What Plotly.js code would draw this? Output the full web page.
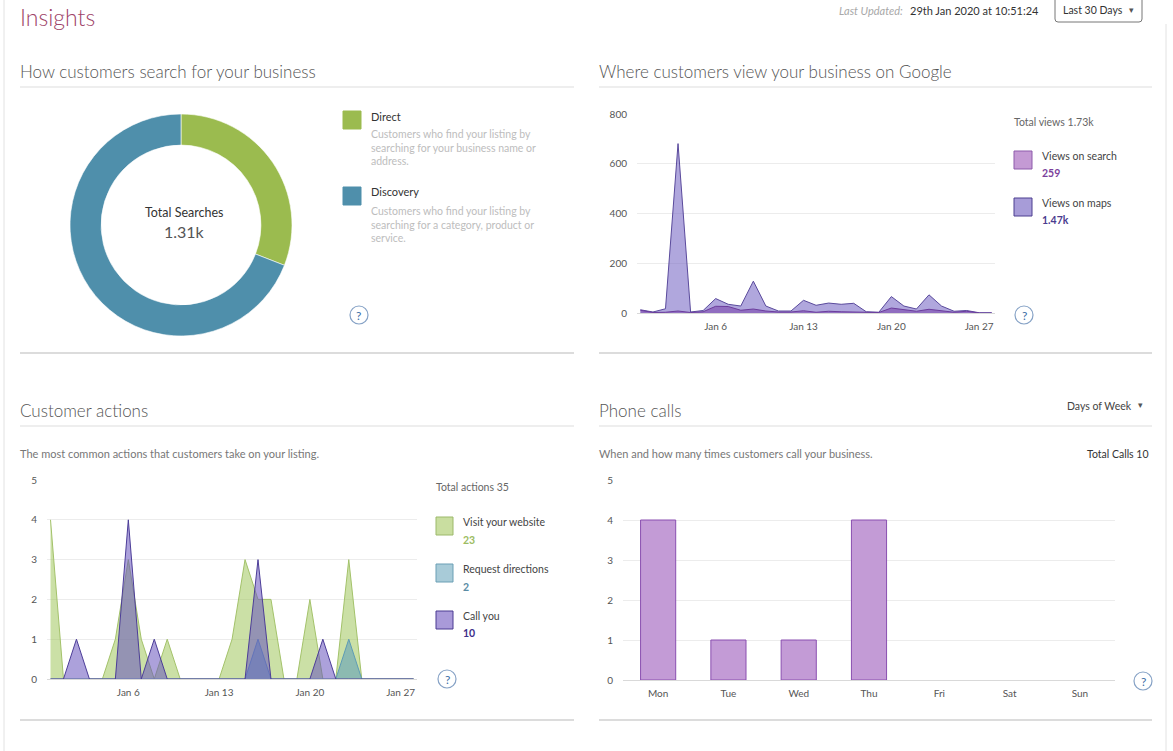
<!DOCTYPE html>
<html>
<head>
<meta charset="utf-8">
<script src="https://cdn.plot.ly/plotly-3.0.1.min.js"></script>
<style>
  html, body { margin: 0; padding: 0; background: #fff; }
  #chart { width: 1173px; height: 751px; }
</style>
</head>
<body>
<div id="chart"></div>
<script>
// ---------- DATA ----------
const searchLabels = ['Direct', 'Discovery'];
const searchValues = [405, 905];

const dates = ['2019-12-31','2020-01-01','2020-01-02','2020-01-03','2020-01-04','2020-01-05','2020-01-06',
  '2020-01-07','2020-01-08','2020-01-09','2020-01-10','2020-01-11','2020-01-12','2020-01-13',
  '2020-01-14','2020-01-15','2020-01-16','2020-01-17','2020-01-18','2020-01-19','2020-01-20',
  '2020-01-21','2020-01-22','2020-01-23','2020-01-24','2020-01-25','2020-01-26','2020-01-27','2020-01-28'];
const viewsMaps   = [13,4,17,681,4,10,58,35,28,128,28,8,8,51,31,40,35,39,5,3,66,28,16,73,28,7,10,1,1];
const viewsSearch = [11,2,3,8,2,5,27,26,11,16,8,4,4,9,3,7,5,5,2,2,20,15,7,15,8,3,7,0,0];

const visitWebsite      = [4,0,0,0,0,1,3,1,0,1,0,0,0,0,1,3,2,2,0,0,2,0,0,3,0,0,0,0,0];
const requestDirections = [0,0,0,0,0,0,0,0,0,0,0,0,0,0,0,0,1,0,0,0,0,0,0,1,0,0,0,0,0];
const callYou           = [0,0,1,0,0,0,4,0,1,0,0,0,0,0,0,0,3,0,0,0,0,1,0,0,0,0,0,0,0];

const dateTickVals = ['2020-01-06','2020-01-13','2020-01-20','2020-01-27'];
const dateTickText = ['Jan 6','Jan 13','Jan 20','Jan 27'];

const weekDays = ['Mon','Tue','Wed','Thu','Fri','Sat','Sun'];
const callsPerDay = [4,1,1,4,0,0,0];

// ---------- HELPERS ----------
const W = 1173, H = 751;
const FONT = 'Lato, "Open Sans", "Noto Sans", sans-serif';
const px = v => v / W;
const py = v => 1 - v / H;

function T(text, x, y, size, color, extra) {
  return Object.assign({
    text: text, x: px(x), y: py(y), xref: 'paper', yref: 'paper',
    xanchor: 'left', yanchor: 'middle', showarrow: false, align: 'left',
    font: { family: FONT, size: size, color: color }
  }, extra || {});
}
function L(x0, y0, x1, y1, color, width) {
  return { type: 'line', xref: 'paper', yref: 'paper', x0: px(x0), y0: py(y0), x1: px(x1), y1: py(y1),
    line: { color: color, width: width } };
}
function R(x0, y0, x1, y1, fill, border) {
  return { type: 'rect', xref: 'paper', yref: 'paper', x0: px(x0), y0: py(y0), x1: px(x1), y1: py(y1),
    fillcolor: fill, line: { color: border, width: 1 } };
}
function C(cx, cy, r, color) {
  return { type: 'circle', xref: 'paper', yref: 'paper', x0: px(cx - r), y0: py(cy + r), x1: px(cx + r), y1: py(cy - r),
    fillcolor: 'rgba(0,0,0,0)', line: { color: color, width: 1.2 } };
}

const shapes = [];
const annotations = [];

// page borders
shapes.push(L(4, 0, 4, 751, '#e2e2e2', 1));
shapes.push(L(1166, 24, 1166, 751, '#e2e2e2', 1));

// header
annotations.push(T('Insights', 18, 17, 23, '#9e4368', { font: { family: FONT, size: 23, color: '#9e4368', weight: 300 } }));
annotations.push(T('<i>Last Updated:</i>', 837, 10, 11, '#a8a8a8'));
annotations.push(T('29th Jan 2020 at 10:51:24', 908, 10, 11, '#333333'));
shapes.push({ type: 'path', xref: 'paper', yref: 'paper',
  path: `M ${px(1055)},${py(-2)} L ${px(1055)},${py(19)} Q ${px(1055)},${py(22)} ${px(1058)},${py(22)} L ${px(1139)},${py(22)} Q ${px(1142)},${py(22)} ${px(1142)},${py(19)} L ${px(1142)},${py(-2)} Z`,
  fillcolor: '#ffffff', line: { color: '#777777', width: 1 } });
annotations.push(T('Last 30 Days', 1061, 10, 10.5, '#333333'));
annotations.push(T('▾', 1127, 9, 9, '#555555'));

// section titles & rules
const secFont = (size) => ({ family: FONT, size: size, color: '#555555', weight: 300 });
annotations.push(T('How customers search for your business', 18, 71, 17, '#555', { font: secFont(17) }));
annotations.push(T('Where customers view your business on Google', 597, 71, 17, '#555', { font: secFont(17) }));
annotations.push(T('Customer actions', 18, 410, 17, '#555', { font: secFont(17) }));
annotations.push(T('Phone calls', 597, 410, 17, '#555', { font: secFont(17) }));
shapes.push(L(20, 87, 574, 87, '#dddddd', 1));
shapes.push(L(599, 87, 1152, 87, '#dddddd', 1));
shapes.push(L(20, 426, 574, 426, '#dddddd', 1));
shapes.push(L(599, 426, 1152, 426, '#dddddd', 1));
shapes.push(L(20, 353, 574, 353, '#dcdcdc', 2));
shapes.push(L(599, 353, 1152, 353, '#dcdcdc', 2));
shapes.push(L(20, 720, 574, 720, '#dcdcdc', 2));
shapes.push(L(599, 720, 1152, 720, '#dcdcdc', 2));

annotations.push(T('Days of Week', 1065, 406, 10.5, '#444444'));
annotations.push(T('▾', 1136, 405, 9, '#555555'));
annotations.push(T('The most common actions that customers take on your listing.', 18, 453, 11, '#777777'));
annotations.push(T('When and how many times customers call your business.', 597, 453, 11, '#777777'));
annotations.push(T('Total Calls 10', 1151, 454, 10.5, '#333333', { xanchor: 'right' }));

// donut centre text
annotations.push(T('Total Searches', 184, 212, 12.5, '#333333', { xanchor: 'center' }));
annotations.push(T('1.31k', 184, 232, 16, '#555555', { xanchor: 'center' }));

// donut legend
const descColor = '#bdbdbd';
shapes.push(R(343, 111, 361, 129, '#9bbb4f', '#9bbb4f'));
annotations.push(T('Direct', 369, 116, 11, '#333333'));
annotations.push(T('Customers who find your listing by<br>searching for your business name or<br>address.', 369, 147, 10.5, descColor));
shapes.push(R(343, 187, 361, 205, '#4f8fab', '#4f8fab'));
annotations.push(T('Discovery', 369, 192, 11, '#333333'));
annotations.push(T('Customers who find your listing by<br>searching for a category, product or<br>service.', 369, 224, 10.5, descColor));

// views legend
annotations.push(T('Total views 1.73k', 1012, 122, 10.5, '#666666'));
shapes.push(R(1014, 151, 1032, 169, '#c49ad4', '#8d5aab'));
annotations.push(T('Views on search', 1040, 156, 10.5, '#444444'));
annotations.push(T('<b>259</b>', 1040, 173, 10.5, '#7c3f9c'));
shapes.push(R(1014, 198, 1032, 216, '#a79cd8', '#4d3f90'));
annotations.push(T('Views on maps', 1040, 203, 10.5, '#444444'));
annotations.push(T('<b>1.47k</b>', 1040, 220, 10.5, '#4a3c8f'));

// actions legend
annotations.push(T('Total actions 35', 434, 487, 10.5, '#666666'));
shapes.push(R(436, 517, 453, 535, '#c9dea0', '#9cb96a'));
annotations.push(T('Visit your website', 461, 522, 10.5, '#444444'));
annotations.push(T('<b>23</b>', 461, 540, 10.5, '#9cbc62'));
shapes.push(R(436, 564, 453, 582, '#a8cbd8', '#6a9fb5'));
annotations.push(T('Request directions', 461, 569, 10.5, '#444444'));
annotations.push(T('<b>2</b>', 461, 587, 10.5, '#5a8ca5'));
shapes.push(R(436, 611, 453, 629, '#a99ad9', '#4b3a92'));
annotations.push(T('Call you', 461, 616, 10.5, '#444444'));
annotations.push(T('<b>10</b>', 461, 633, 10.5, '#3e2f8a'));

// help icons
[[359, 315], [1024, 315], [447, 679], [1143, 681]].forEach(function (p) {
  shapes.push(C(p[0], p[1], 9, '#86a2c6'));
  annotations.push(T('?', p[0], p[1] + 0.5, 12, '#3c6ea8', { xanchor: 'center' }));
});

// ---------- TRACES ----------
const dateRange = ['2019-12-30 17:30', '2020-01-28 06:15'];
const traces = [
  { type: 'pie', labels: searchLabels, values: searchValues, hole: 0.72, sort: false, direction: 'clockwise',
    rotation: 0, textinfo: 'none', hoverinfo: 'label+value',
    marker: { colors: ['#9bbb4f', '#4f8fab'], line: { color: '#ffffff', width: 0.6 } },
    domain: { x: [px(70), px(292)], y: [py(336), py(114)] }, showlegend: false },

  { type: 'scatter', mode: 'lines', x: dates, y: viewsMaps, name: 'Views on maps', xaxis: 'x', yaxis: 'y',
    fill: 'tozeroy', fillcolor: 'rgba(124,108,198,0.6)', line: { color: '#5a4a9c', width: 1 } },
  { type: 'scatter', mode: 'lines', x: dates, y: viewsSearch, name: 'Views on search', xaxis: 'x', yaxis: 'y',
    fill: 'tozeroy', fillcolor: 'rgba(118,62,168,0.55)', line: { color: '#6b3d9c', width: 1 } },

  { type: 'scatter', mode: 'lines', x: dates, y: visitWebsite, name: 'Visit your website', xaxis: 'x2', yaxis: 'y2',
    fill: 'tozeroy', fillcolor: 'rgba(160,198,92,0.55)', line: { color: '#a3c26a', width: 1 } },
  { type: 'scatter', mode: 'lines', x: dates, y: requestDirections, name: 'Request directions', xaxis: 'x2', yaxis: 'y2',
    fill: 'tozeroy', fillcolor: 'rgba(90,155,185,0.55)', line: { color: '#5d9bb5', width: 1 } },
  { type: 'scatter', mode: 'lines', x: dates, y: callYou, name: 'Call you', xaxis: 'x2', yaxis: 'y2',
    fill: 'tozeroy', fillcolor: 'rgba(104,84,190,0.55)', line: { color: '#4c3d98', width: 1 } },

  { type: 'bar', x: weekDays, y: callsPerDay, name: 'Calls', xaxis: 'x3', yaxis: 'y3', width: 0.5,
    marker: { color: '#c39bd6', line: { color: '#8a4fb0', width: callsPerDay.map(v => v > 0 ? 1 : 0) } } }
];

const tickFont = { family: FONT, size: 10, color: '#555555' };
const yBase = { gridcolor: '#ececec', zeroline: true, zerolinecolor: '#d9d9d9', zerolinewidth: 1,
  showline: false, ticks: '', tickfont: tickFont, ticklabelstandoff: 9, fixedrange: true };
const xDate = { type: 'date', range: dateRange, tickvals: dateTickVals, ticktext: dateTickText, showgrid: false,
  zeroline: false, showline: false, ticks: '', tickfont: tickFont, ticklabelstandoff: 6, fixedrange: true };

const layout = {
  width: W, height: H, margin: { l: 0, r: 0, t: 0, b: 0 }, showlegend: false,
  paper_bgcolor: '#ffffff', plot_bgcolor: 'rgba(0,0,0,0)', font: { family: FONT },
  xaxis: Object.assign({}, xDate, { domain: [px(637), px(995)], anchor: 'y' }),
  yaxis: Object.assign({}, yBase, { domain: [py(313), py(114)], range: [0, 800], tickvals: [0, 200, 400, 600, 800], anchor: 'x' }),
  xaxis2: Object.assign({}, xDate, { domain: [px(47), px(417)], anchor: 'y2' }),
  yaxis2: Object.assign({}, yBase, { domain: [py(679), py(480)], range: [0, 5], tickvals: [0, 1, 2, 3, 4, 5], anchor: 'x2' }),
  xaxis3: { type: 'category', domain: [px(623), px(1115)], range: [-0.5, 6.5], anchor: 'y3', showgrid: false,
    zeroline: false, showline: false, ticks: '', tickfont: tickFont, ticklabelstandoff: 6, fixedrange: true },
  yaxis3: Object.assign({}, yBase, { domain: [py(680), py(480)], range: [0, 5], tickvals: [0, 1, 2, 3, 4, 5], anchor: 'x3' }),
  shapes: shapes,
  annotations: annotations
};

Plotly.newPlot('chart', traces, layout, { displayModeBar: false, staticPlot: true });
</script>
</body>
</html>
